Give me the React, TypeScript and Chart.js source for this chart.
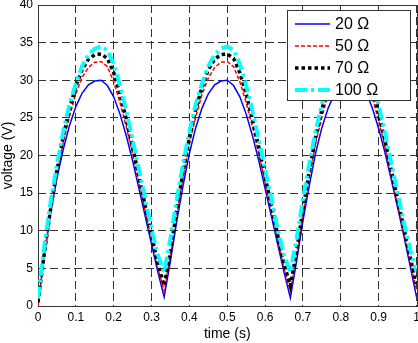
import React, { useEffect, useRef } from "react";
import { Chart, registerables } from "chart.js";

Chart.register(...registerables);

const times = [0, 0.0167, 0.0333, 0.05, 0.0667, 0.0833, 0.1, 0.1167, 0.1333, 0.15, 0.1667, 0.1833, 0.2, 0.2167, 0.2333, 0.25, 0.2667, 0.2833, 0.3, 0.3167, 0.3333, 0.35, 0.3667, 0.3833, 0.4, 0.4167, 0.4333, 0.45, 0.4667, 0.4833, 0.5, 0.5167, 0.5333, 0.55, 0.5667, 0.5833, 0.6, 0.6167, 0.6333, 0.65, 0.6667, 0.6833, 0.7, 0.7167, 0.7333, 0.75, 0.7667, 0.7833, 0.8, 0.8167, 0.8333, 0.85, 0.8667, 0.8833, 0.9, 0.9167, 0.9333, 0.95, 0.9667, 0.9833, 1];

const v20 = [0, 6.8, 12.3, 17.0, 20.8, 24.0, 26.5, 28.3, 29.4, 29.9, 30.0, 29.3, 27.8, 25.5, 22.6, 19.3, 15.6, 11.9, 8.2, 4.5, 1.2,
  6.0, 11.3, 16.0, 20.3, 23.7, 26.3, 28.2, 29.4, 29.9, 30.0, 29.3, 27.8, 25.5, 22.6, 19.3, 15.6, 11.9, 8.2, 4.5, 1.1,
  6.0, 11.3, 16.0, 20.3, 23.7, 26.3, 28.2, 29.4, 29.9, 30.0, 29.6, 28.4, 26.3, 23.6, 20.4, 16.8, 13.1, 9.3, 5.3, 1.2];

const v50 = [0, 6.8, 12.5, 17.5, 21.8, 25.2, 28.2, 30.4, 31.7, 32.4, 32.5, 31.8, 29.8, 27.0, 23.8, 20.2, 16.4, 12.6, 8.8, 5.0, 2.0,
  6.8, 12.2, 17.2, 21.6, 25.1, 28.1, 30.3, 31.7, 32.4, 32.5, 31.8, 29.8, 27.0, 23.8, 20.2, 16.4, 12.6, 8.8, 5.0, 2.0,
  6.8, 12.2, 17.2, 21.6, 25.1, 28.1, 30.3, 31.7, 32.4, 32.5, 32.0, 30.3, 27.7, 24.6, 21.1, 17.3, 13.5, 9.7, 5.9, 2.1];

const v70 = [0.5, 7.0, 12.9, 18.0, 22.5, 26.2, 29.2, 31.4, 32.8, 33.4, 33.5, 32.9, 31.0, 28.2, 24.8, 21.1, 17.2, 13.3, 9.4, 5.6, 2.7,
  7.3, 12.8, 17.9, 22.4, 26.1, 29.1, 31.4, 32.8, 33.4, 33.5, 32.9, 31.0, 28.2, 24.8, 21.1, 17.2, 13.3, 9.4, 5.6, 2.7,
  7.3, 12.8, 17.9, 22.4, 26.1, 29.1, 31.4, 32.8, 33.4, 33.5, 33.1, 31.5, 28.9, 25.6, 22.0, 18.1, 14.2, 10.3, 6.5, 2.9];

const v100 = [1.0, 8.0, 13.8, 18.8, 23.2, 26.8, 29.6, 31.9, 33.4, 34.2, 34.5, 34.0, 32.2, 29.3, 25.9, 22.1, 18.1, 14.3, 10.2, 6.8, 4.5,
  9.0, 14.2, 18.9, 23.2, 26.8, 29.6, 31.9, 33.4, 34.2, 34.5, 34.0, 32.2, 29.3, 25.9, 22.1, 18.1, 14.3, 10.2, 6.8, 4.5,
  9.0, 14.2, 18.9, 23.2, 26.8, 29.6, 31.9, 33.4, 34.2, 34.5, 34.2, 32.7, 30.0, 26.7, 23.0, 19.0, 15.1, 11.1, 7.5, 4.6];

const seriesLabels = ["20 Ω", "50 Ω", "70 Ω", "100 Ω"];
const xMin = 0, xMax = 1, xStep = 0.1;
const yMin = 0, yMax = 40, yStep = 5;
const xTitle = "time (s)";
const yTitle = "voltage (V)";

const FONT = "'Liberation Sans', Arial, sans-serif";

const toPts = (vals: number[]) => vals.map((v, i) => ({ x: times[i], y: v }));
const fmt = (v: any) => String(Math.round(Number(v) * 10) / 10);

const framePlugin = {
  id: "frame",
  beforeDatasetsDraw(chart: any) {
    const { ctx, chartArea: a } = chart;
    ctx.save();
    ctx.setLineDash([]);
    ctx.strokeStyle = "#333";
    ctx.lineWidth = 1;
    ctx.strokeRect(Math.round(a.left) + 0.5, Math.round(a.top) + 0.5, Math.round(a.right - a.left), Math.round(a.bottom - a.top));
    ctx.restore();
  },
};

const legendPlugin = {
  id: "boxLegend",
  afterDatasetsDraw(chart: any) {
    const { ctx, chartArea: a } = chart;
    const w = 123, h = 90;
    const x0 = Math.round(a.right - 6.5 - w);
    const y0 = Math.round(a.top + 5);
    ctx.save();
    ctx.fillStyle = "#fff";
    ctx.fillRect(x0, y0, w, h);
    ctx.setLineDash([]);
    ctx.strokeStyle = "#333";
    ctx.lineWidth = 1;
    ctx.strokeRect(x0 + 0.5, y0 + 0.5, w, h);
    chart.data.datasets.forEach((ds: any, i: number) => {
      const cy = y0 + 14 + i * 22;
      ctx.beginPath();
      ctx.strokeStyle = ds.borderColor;
      ctx.lineWidth = ds.borderWidth;
      ctx.setLineDash(ds.borderDash || []);
      ctx.moveTo(x0 + 8, cy);
      ctx.lineTo(x0 + 43, cy);
      ctx.stroke();
      ctx.setLineDash([]);
      ctx.fillStyle = "#000";
      ctx.font = `16px ${FONT}`;
      ctx.textBaseline = "middle";
      ctx.textAlign = "left";
      ctx.fillText(ds.label, x0 + 48, cy + 1);
    });
    ctx.restore();
  },
};

export default function App() {
  const ref = useRef<HTMLCanvasElement | null>(null);
  useEffect(() => {
    if (!ref.current) return;
    const chart = new Chart(ref.current, {
      type: "line",
      data: {
        datasets: [
          { label: seriesLabels[0], data: toPts(v20), borderColor: "#0000ff", borderWidth: 1.5, borderDash: [], pointRadius: 0, fill: false, order: 4 },
          { label: seriesLabels[1], data: toPts(v50), borderColor: "#ff0000", borderWidth: 1.5, borderDash: [4, 2], pointRadius: 0, fill: false, order: 3 },
          { label: seriesLabels[2], data: toPts(v70), borderColor: "#000000", borderWidth: 3.5, borderDash: [3.5, 3], pointRadius: 0, fill: false, order: 2 },
          { label: seriesLabels[3], data: toPts(v100), borderColor: "#00ffff", borderWidth: 4, borderDash: [12, 4, 3, 4], pointRadius: 0, fill: false, order: 1 },
        ],
      },
      options: {
        responsive: false,
        animation: false,
        events: [],
        layout: { padding: { left: 0, right: 7.5, top: 5, bottom: 0 } },
        plugins: { legend: { display: false }, tooltip: { enabled: false } },
        elements: { line: { tension: 0 } },
        scales: {
          x: {
            type: "linear",
            min: xMin,
            max: xMax,
            ticks: { stepSize: xStep, color: "#000", font: { family: FONT, size: 12 }, padding: 4, maxRotation: 0, autoSkip: false, callback: fmt },
            grid: { color: "#333", lineWidth: 1, drawTicks: false },
            border: { display: false, dash: [8, 4] },
            title: { display: true, text: xTitle, color: "#000", font: { family: FONT, size: 14 }, padding: { top: 0, bottom: 0 } },
            afterFit: (s: any) => { s.height = 37; s.paddingLeft = 0; s.paddingRight = 0; },
          },
          y: {
            min: yMin,
            max: yMax,
            ticks: { stepSize: yStep, color: "#000", font: { family: FONT, size: 12 }, padding: 5, callback: fmt },
            grid: { color: "#333", lineWidth: 1, drawTicks: false },
            border: { display: false, dash: [8, 4] },
            title: { display: true, text: yTitle, color: "#000", font: { family: FONT, size: 14 }, padding: { top: 0, bottom: 0 } },
            afterFit: (s: any) => { s.width = 38; s.paddingTop = 0; s.paddingBottom = 0; },
          },
        },
      },
      plugins: [framePlugin, legendPlugin],
    } as any);
    return () => chart.destroy();
  }, []);
  return (
    <div style={{ position: "fixed", left: 0, top: 0, width: 418, height: 343, overflow: "hidden", background: "#fff" }}>
      <canvas ref={ref} width={424} height={343} style={{ display: "block", width: 424, height: 343 }} />
    </div>
  );
}
